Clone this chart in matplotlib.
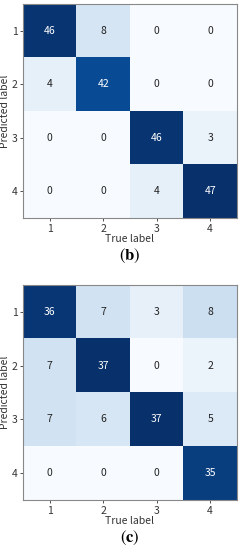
import numpy as np
import matplotlib
matplotlib.use('Agg')
import matplotlib.pyplot as plt

plt.rcParams['font.family'] = ['Noto Sans CJK SC', 'DejaVu Sans']
plt.rcParams['mathtext.fontset'] = 'stix'

labels = ['1', '2', '3', '4']
cm_b = np.array([[46, 8, 0, 0],
                 [4, 42, 0, 0],
                 [0, 0, 46, 3],
                 [0, 0, 4, 47]])
cm_c = np.array([[36, 7, 3, 8],
                 [7, 37, 0, 2],
                 [7, 6, 37, 5],
                 [0, 0, 0, 35]])
captions = [r'$(\mathbf{b})$', r'$(\mathbf{c})$']

fig = plt.figure(figsize=(2.42, 5.5), dpi=100)
axes_pos = [[0.095, 0.6036, 0.884, 0.389], [0.095, 0.0909, 0.884, 0.391]]

for pos, cm, cap in zip(axes_pos, [cm_b, cm_c], captions):
    ax = fig.add_axes(pos)
    ax.imshow(cm, cmap='Blues', vmin=0, vmax=cm.max(), aspect='auto')
    thresh = cm.max() / 2.
    for i in range(cm.shape[0]):
        for j in range(cm.shape[1]):
            ax.text(j, i, str(cm[i, j]), ha='center', va='center', fontsize=7.5,
                    color='white' if cm[i, j] > thresh else '#222222')
    ax.set_xticks(range(len(labels)))
    ax.set_yticks(range(len(labels)))
    ax.set_xticklabels(labels, fontsize=7.5)
    ax.set_yticklabels(labels, fontsize=7.5)
    ax.tick_params(length=2, width=0.6, pad=2, colors='#333333')
    ax.set_xlabel('True label', fontsize=7.5, labelpad=0, color='#333333')
    ax.set_ylabel('Predicted label', fontsize=7.5, labelpad=1, color='#333333')
    for s in ax.spines.values():
        s.set_color('#888888')
        s.set_linewidth(0.8)
    ax.text(0.5, -0.178, cap, transform=ax.transAxes, ha='center', va='center',
            fontsize=12)

fig.savefig('out.png', dpi=100)
